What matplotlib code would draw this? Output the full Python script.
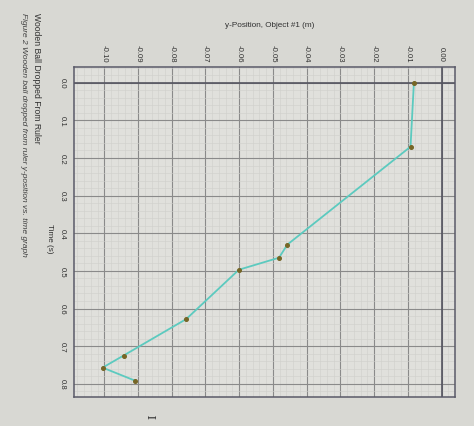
import numpy as np
import matplotlib
matplotlib.use("Agg")
import matplotlib.pyplot as plt
from matplotlib.ticker import MultipleLocator

# Data (time in s, y-position in m)
time_s = [0.0, 0.17, 0.43, 0.465, 0.497, 0.628, 0.725, 0.757, 0.792]
ypos_m = [-0.0082, -0.0092, -0.0457, -0.0482, -0.0601, -0.0757, -0.0943, -0.1005, -0.0908]
ypos_ticks = [-0.10, -0.09, -0.08, -0.07, -0.06, -0.05, -0.04, -0.03, -0.02, -0.01, 0.00]
time_ticks = [0.0, 0.1, 0.2, 0.3, 0.4, 0.5, 0.6, 0.7, 0.8]

plt.rcParams['font.family'] = ['Liberation Sans', 'DejaVu Sans']

fig = plt.figure(figsize=(4.74, 4.27), dpi=100, facecolor='#d8d8d3')
ax = fig.add_axes([0.156, 0.068, 0.804, 0.773])
ax.set_facecolor('#e0e0dc')

ax.set_xlim(-0.109, 0.004)
ax.set_ylim(0.835, -0.042)

ax.xaxis.tick_top()
ax.set_xticks(ypos_ticks)
ax.set_xticklabels([f"{v:.2f}" for v in ypos_ticks], rotation=-90, fontsize=5.6, color='#303030')
ax.set_yticks(time_ticks)
ax.set_yticklabels([f"{v:.1f}" for v in time_ticks], rotation=-90, fontsize=5.6, color='#303030', va='center')
ax.xaxis.set_minor_locator(MultipleLocator(0.002))
ax.yaxis.set_minor_locator(MultipleLocator(0.02))
ax.tick_params(which='both', length=0)
ax.tick_params(axis='x', pad=4)
ax.tick_params(axis='y', pad=6)

ax.grid(which='major', color='#8a8a8a', lw=0.8)
ax.grid(which='minor', color='#cfcfcb', lw=0.4)
ax.set_axisbelow(True)
ax.axhline(0, color='#555560', lw=1.2, zorder=1.5)
ax.axvline(0, color='#555560', lw=1.2, zorder=1.5)
for s in ax.spines.values():
    s.set_color('#5a5a68')
    s.set_linewidth(1.1)

ax.plot(ypos_m, time_s, color='#5ccabf', lw=1.3, zorder=3)
ax.plot(ypos_m, time_s, 'o', color='#766626', ms=2.6, zorder=4)

fig.text(0.57, 0.941, "y-Position, Object #1 (m)", fontsize=5.9, color='#303030', ha='center', va='center')
fig.text(0.105, 0.44, "Time (s)", fontsize=5.9, color='#303030', rotation=-90, ha='center', va='center')
fig.text(0.078, 0.97, "Wooden Ball Dropped From Ruler", fontsize=6.2, color='#303030',
         rotation=-90, ha='center', va='top')
fig.text(0.049, 0.97, "Figure 2 Wooden ball dropped from ruler y-position vs. time graph", fontsize=6.0,
         color='#404040', style='italic', rotation=-90, ha='center', va='top')
fig.text(0.323, 0.023, "I", fontsize=8, color='#333333', family='DejaVu Serif',
         rotation=90, rotation_mode='anchor', ha='center', va='center')

fig.savefig("out.png", dpi=100, facecolor=fig.get_facecolor())
